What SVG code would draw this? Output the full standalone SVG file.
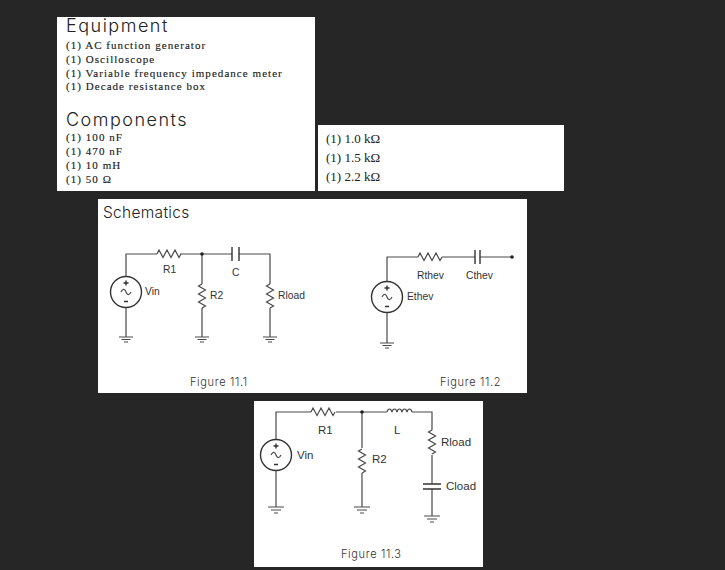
<svg xmlns="http://www.w3.org/2000/svg" width="725" height="570" viewBox="0 0 725 570">
<style>
.panel{fill:#fff}
.w{fill:none;stroke:#4a4a4a;stroke-width:1.200}
.c{fill:none;stroke:#333;stroke-width:1.400}
.h{font-family:"Inter","Liberation Sans",sans-serif;font-weight:300;fill:#222;font-size:18px;letter-spacing:1.500px}
.b{font-family:"Liberation Serif",serif;font-size:11px;fill:#222;letter-spacing:1.050px;stroke:#222;stroke-width:.15}
.r{font-family:"Liberation Serif",serif;font-size:13px;fill:#222}
.l{font-family:"Liberation Sans",sans-serif;font-size:10.300px;fill:#333}
.m{font-family:"Liberation Sans",sans-serif;font-size:11.500px;fill:#333}
.f{font-family:"Inter","Liberation Sans",sans-serif;font-size:11px;font-weight:300;fill:#333;letter-spacing:.65px}
</style>
<defs>
<g id="resH"><path class="w" d="M0 0l2-4 4 7.500 4-7.500 4 7.500 4-7.500 4 7.500 2-3.500"/></g>
<g id="resV"><path class="w" d="M0 0l-3.500 2 7 4-7 4 7 4-7 4 7 4-3.500 2"/></g>
<g id="gnd"><path class="w" d="M-7 0h14M-4.500 2.500h9M-2 5h4"/></g>
<g id="gndL"><path class="w" d="M-8 0h16M-5 3h10M-2 6h4"/></g>
<g id="src"><circle class="c" r="15.500"/><path class="w" d="M-5 0c2-4 4-3 5 0s3 4 5 0"/><path class="c" d="M-2.500-9h5M0-11.500v5M-2 9.500h4"/></g>
</defs>
<rect width="725" height="570" fill="#262626"/>

<g id="equipment-panel">
<rect class="panel" x="57" y="17" width="258" height="174"/>
<text class="h" x="66" y="32">Equipment</text>
<text class="b" x="66" y="49">(1) AC function generator</text>
<text class="b" x="66" y="63">(1) Oscilloscope</text>
<text class="b" x="66" y="77">(1) Variable frequency impedance meter</text>
<text class="b" x="66" y="90">(1) Decade resistance box</text>
<text class="h" x="66" y="126">Components</text>
<text class="b" x="66" y="141">(1) 100 nF</text>
<text class="b" x="66" y="155">(1) 470 nF</text>
<text class="b" x="66" y="169">(1) 10 mH</text>
<text class="b" x="66" y="183">(1) 50 Ω</text>
</g>

<g id="resistor-panel">
<rect class="panel" x="318" y="125" width="246" height="66"/>
<text class="r" x="326" y="143">(1) 1.0 kΩ</text>
<text class="r" x="326" y="162">(1) 1.5 kΩ</text>
<text class="r" x="326" y="181">(1) 2.2 kΩ</text>
</g>

<g id="schematics-panel">
<rect class="panel" x="98" y="199" width="429" height="194"/>
<text class="h" x="103" y="218" style="font-size:15.500px;letter-spacing:.3px">Schematics</text>
</g>

<g id="figure-panel-3">
<rect class="panel" x="254" y="401" width="229" height="166"/>
</g>

<g id="connectors">
<path class="w" d="M126 277V254H157M180 254H232M239 254H270V284M202 254V284M202 308V337M270 308V337M126 307V337"/>
<path class="w" d="M387 282V257H418M442 257H475M480 257H512M387 312V343"/>
<path class="w" d="M276 439V412H311M336 412H387M412 412H432V430M362 412V448M362 473V507M432 455V484M432 489V516M276 471V507"/>
</g>

<g id="fig1-vin"><use href="#src" x="126" y="292"/><text class="l" x="145" y="295">Vin</text></g>
<g id="fig1-r1"><use href="#resH" x="157" y="254"/><text class="l" x="163" y="273">R1</text></g>
<g id="fig1-node"><circle cx="202" cy="254" r="1.800" fill="#222"/></g>
<g id="fig1-c"><path class="c" d="M232 247V261M239 247V261"/><text class="l" x="232" y="276">C</text></g>
<g id="fig1-r2"><use href="#resV" x="202" y="284"/><text class="l" x="210" y="299">R2</text></g>
<g id="fig1-rload"><use href="#resV" x="270" y="284"/><text class="l" x="278" y="299">Rload</text></g>
<g id="fig1-gnd1"><use href="#gnd" x="126" y="337"/></g>
<g id="fig1-gnd2"><use href="#gnd" x="202" y="337"/></g>
<g id="fig1-gnd3"><use href="#gnd" x="270" y="337"/></g>
<text class="f" x="190" y="386">Figure 11.1</text>

<g id="fig2-ethev"><use href="#src" x="387" y="297"/><text class="l" x="407" y="300">Ethev</text><use href="#gnd" x="387" y="343"/></g>
<g id="fig2-rthev"><use href="#resH" x="418" y="257"/><text class="l" x="417" y="279">Rthev</text></g>
<g id="fig2-cthev"><path class="c" d="M475 250V264M480 250V264"/><text class="l" x="466" y="279">Cthev</text></g>
<g id="fig2-end"><circle cx="512" cy="257" r="1.800" fill="#222"/></g>
<text class="f" x="440" y="386">Figure 11.2</text>

<g id="fig3-vin"><use href="#src" x="276" y="455"/><text class="m" x="297" y="459">Vin</text><use href="#gndL" x="276" y="507"/></g>
<g id="fig3-r1"><use href="#resH" x="311" y="412"/><text class="m" x="318" y="434">R1</text></g>
<g id="fig3-node"><circle cx="362" cy="412" r="1.800" fill="#222"/></g>
<g id="fig3-l"><path class="w" d="M387 412c1-4 4-4 5 0c1-4 4-4 5 0c1-4 4-4 5 0c1-4 4-4 5 0c1-4 4-4 5 0"/><text class="m" x="394" y="434">L</text></g>
<g id="fig3-r2"><use href="#resV" x="362" y="449"/><text class="m" x="372" y="463">R2</text><use href="#gndL" x="362" y="507"/></g>
<g id="fig3-rload"><use href="#resV" x="432" y="430"/><text class="m" x="441" y="446">Rload</text></g>
<g id="fig3-cload"><path class="c" d="M423 484H441M423 489H441"/><text class="m" x="446" y="490">Cload</text><use href="#gndL" x="432" y="516"/></g>
<text class="f" x="341" y="558">Figure 11.3</text>
</svg>
